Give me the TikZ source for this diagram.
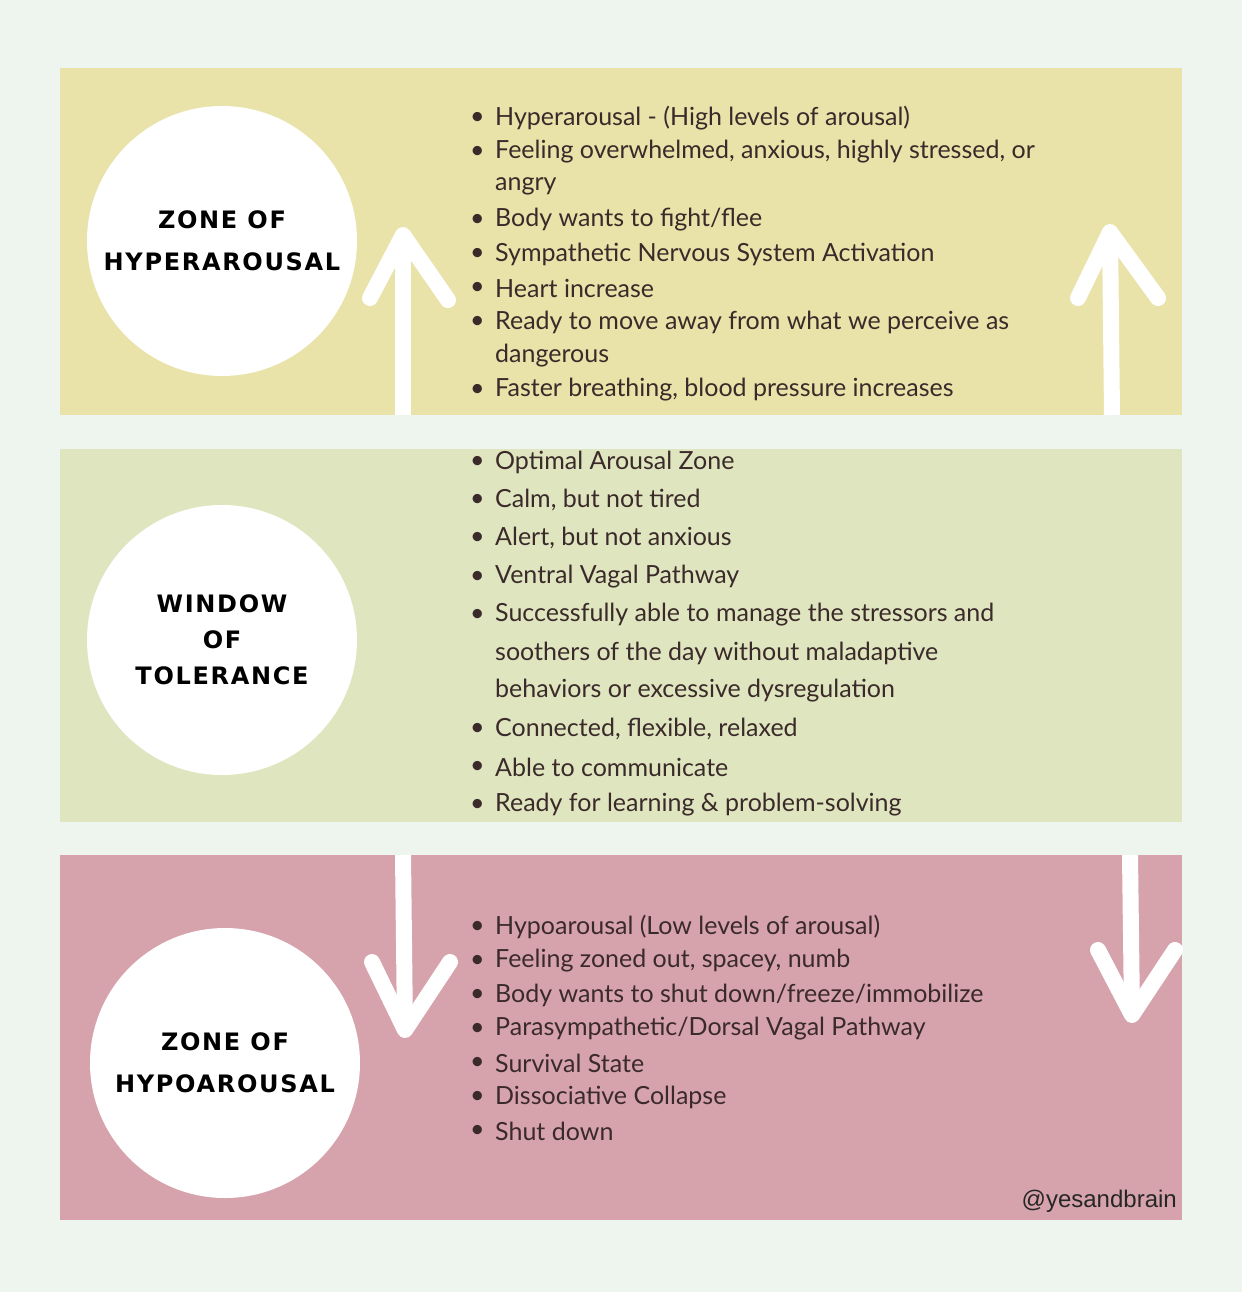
\documentclass[tikz,border=0pt]{standalone}
\usepackage{fontspec}
\setmainfont{Lato}
\newfontfamily\labfont[LetterSpace=7]{DejaVu Sans}
\newfontfamily\arialfont{Liberation Sans}
\definecolor{bgc}{HTML}{EEF4EE}
\definecolor{topc}{HTML}{E9E3AA}
\definecolor{midc}{HTML}{DFE6BF}
\definecolor{botc}{HTML}{D6A3AC}
\definecolor{txt}{HTML}{3B2A2A}
\begin{document}
\begin{tikzpicture}[x=1pt,y=-1pt,
  it/.style={anchor=west,inner sep=0,text=txt,font=\fontsize{25}{30}\selectfont},
  circ/.style={circle,fill=white,minimum size=270,inner sep=0},
  lab/.style={font=\labfont\bfseries\fontsize{24}{42}\selectfont,align=center,text=black},
  arr/.style={white,line width=16,line cap=round,line join=round},
  shaft/.style={white,line width=16}]
\fill[bgc] (0,0) rectangle (1242,1292);
\useasboundingbox (0,0) rectangle (1242,1292);
\fill[topc] (60,68) rectangle (1182,415);
\fill[midc] (60,449) rectangle (1182,822);
\fill[botc] (60,855) rectangle (1182,1220);
% arrows
\coordinate (a1b) at (403,415); \coordinate (a1t) at (403,235);
\draw[shaft] (a1b) -- (a1t); \draw[arr] (370,298) -- (a1t) -- (448,300);
\coordinate (a2b) at (1112,415); \coordinate (a2t) at (1110,232);
\draw[shaft] (a2b) -- (a2t); \draw[arr] (1078,298) -- (a2t) -- (1158,298);
\coordinate (a3t) at (403,855); \coordinate (a3b) at (405,1030);
\draw[shaft] (a3t) -- (a3b); \draw[arr] (372,962) -- (a3b) -- (450,962);
\coordinate (a4t) at (1130,855); \coordinate (a4b) at (1132,1015);
\draw[shaft] (a4t) -- (a4b); \draw[arr] (1098,950) -- (a4b) -- (1175,950);
% circles
\node[circ] (c1) at (222,241) {};
\node[lab] (l1) at (c1) {ZONE OF\\HYPERAROUSAL};
\node[circ] (c2) at (222,640) {};
\node[lab,font=\labfont\bfseries\fontsize{24}{36}\selectfont] (l2) at (c2) {WINDOW\\OF\\TOLERANCE};
\node[circ] (c3) at (225,1063) {};
\node[lab] (l3) at (c3) {ZONE OF\\HYPOAROUSAL};
% top list
\foreach \t/\y [count=\i] in {{Hyperarousal - (High levels of arousal)}/118,
  {Feeling overwhelmed, anxious, highly stressed, or}/152, {Body wants to fight/flee}/220,
  {Sympathetic Nervous System Activation}/254, {Heart increase}/288,
  {Ready to move away from what we perceive as}/322,
  {Faster breathing, blood pressure increases}/390}
  {\node[it] (tb\i) at (470,\y) {•}; \node[it] (t\i) at (495,\y) {\t};}
\node[it] (tx1) at (495,186) {angry};
\node[it] (tx2) at (495,356) {dangerous};
% middle list
\foreach \t/\y [count=\i] in {{Optimal Arousal Zone}/462, {Calm, but not tired}/500,
  {Alert, but not anxious}/538, {Ventral Vagal Pathway}/577,
  {Successfully able to manage the stressors and}/615,
  {Connected, flexible, relaxed}/729, {Able to communicate}/767,
  {Ready for learning \& problem-solving}/805}
  {\node[it] (mb\i) at (470,\y) {•}; \node[it] (m\i) at (495,\y) {\t};}
\node[it] (mx1) at (495,653) {soothers of the day without maladaptive};
\node[it] (mx2) at (495,691) {behaviors or excessive dysregulation};
% bottom list
\foreach \t/\y [count=\i] in {{Hypoarousal (Low levels of arousal)}/927,
  {Feeling zoned out, spacey, numb}/961, {Body wants to shut down/freeze/immobilize}/995,
  {Parasympathetic/Dorsal Vagal Pathway}/1029, {Survival State}/1063,
  {Dissociative Collapse}/1097, {Shut down}/1131}
  {\node[it] (bb\i) at (470,\y) {•}; \node[it] (b\i) at (495,\y) {\t};}
\node[anchor=east,inner sep=0,font=\arialfont\fontsize{24}{28}\selectfont,text=black!85] (sig) at (1177,1201) {@yesandbrain};
\end{tikzpicture}
\end{document}
